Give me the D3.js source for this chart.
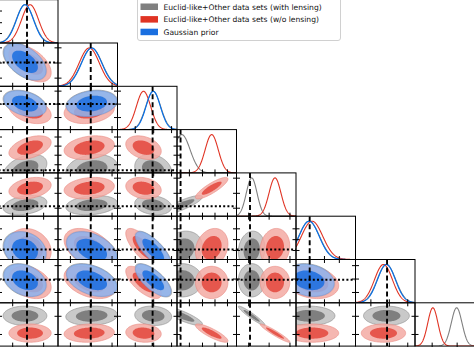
<!DOCTYPE html>
<html><head><meta charset="utf-8">
<script src="https://cdn.jsdelivr.net/npm/d3@7"></script>
<style>html,body{margin:0;padding:0;background:#fff;overflow:hidden}</style>
</head><body>
<svg id="c" width="474" height="347"></svg>
<script>
// ---------------- data (normalised parameter units, 0..1 per axis) ----------------
const paramNames = ["p1","p2","p3","p4","p5","p6","p7","p8"];
const trueValues = [0.479, 0.55, 0.59, 0.06, 0.227, 0.23, 0.53, 1.5];
const tickValues = [
  [0.23, 0.48, 0.75],
  [0.2, 0.55, 0.9],
  [0.29, 0.6, 0.9],
  [0.2, 0.42, 0.63, 0.84],
  [0.196, 0.54, 0.89],
  [0.22, 0.47, 0.72],
  [0.25, 0.56, 0.87],
  [0.28, 0.70]
];
const seriesNames = [
  "Euclid-like+Other data sets (with lensing)",
  "Euclid-like+Other data sets (w/o lensing)",
  "Gaussian prior"
];
// with lensing (gray)
const grayMean  = [0.445, 0.566, 0.60, 0.08, 0.255, 0.22, 0.52, 0.70];
const graySigma = [0.148, 0.175, 0.125, 0.14, 0.09, 0.175, 0.155, 0.09];
// without lensing (red)
const redMean   = [0.53, 0.525, 0.437, 0.583, 0.647, 0.27, 0.47, 0.30];
const redSigma  = [0.143, 0.17, 0.12, 0.11, 0.10, 0.18, 0.15, 0.085];
// Gaussian prior (blue) -- only for some parameters
const blueMean  = [0.445, 0.566, 0.60, null, null, 0.22, 0.52, null];
const blueSigma = [0.143, 0.17, 0.12, null, null, 0.17, 0.15, null];
// correlations, lower triangle: corr[row][col]
const corrRed = [
  [],
  [-0.5],
  [-0.35, 0.2],
  [0.45, 0.25, -0.3],
  [0.3, 0.2, -0.2, 0.85],
  [-0.2, -0.4, -0.75, 0.2, 0.1],
  [-0.3, -0.4, -0.7, 0.0, 0.0, -0.2],
  [0.0, 0.1, -0.1, -0.85, -0.95, 0.0, 0.0]
];
const corrGray = [
  [],
  [-0.5],
  [-0.35, 0.2],
  [0.4, 0.2, -0.2],
  [0.3, 0.2, -0.2, 0.85],
  [-0.2, -0.4, -0.75, 0.2, 0.1],
  [-0.3, -0.4, -0.7, 0.0, 0.0, -0.2],
  [0.0, 0.1, -0.1, -0.85, -0.95, 0.0, 0.0]
];
const corrBlue = corrGray;

// ---------------- layout ----------------
const N = 8, cellW = 59.5, cellH = 43.3, X0 = -1.5, Y0 = -0.3;
const svg = d3.select("#c");
const defs = svg.append("defs");

const xS = d3.range(N).map(j => d3.scaleLinear().domain([0,1]).range([X0 + j*cellW, X0 + (j+1)*cellW]));
const yS = d3.range(N).map(i => d3.scaleLinear().domain([0,1]).range([Y0 + (i+1)*cellH, Y0 + i*cellH]));
const yDens = d3.range(N).map(i => d3.scaleLinear().domain([0,1.13]).range([Y0 + (i+1)*cellH, Y0 + i*cellH]));

const series = [
  {mean: grayMean, sigma: graySigma, corr: corrGray, line: "#808080", inner: "#7f7f7f", outer: "#c9c9c9", edge:"#8c8c8c", op: 1},
  {mean: redMean, sigma: redSigma, corr: corrRed, line: "#e03424", inner: "#e3463c", outer: "#f3aaa3", edge:"#ea8a82", op: 0.85},
  {mean: blueMean, sigma: blueSigma, corr: corrBlue, line: "#006fed", inner: "#1a6fe0", outer: "#8db3ee", edge:"#6d97d9", op: 0.85}
];
const levels = [Math.sqrt(6.18), Math.sqrt(2.30)];

function ellipse(s, i, j) {
  const mx = s.mean[j], my = s.mean[i], sx = s.sigma[j], sy = s.sigma[i];
  const rho = s.corr[i][j];
  return levels.map(r => d3.range(0, 361, 4).map(a => {
    const t = a*Math.PI/180, c = Math.cos(t), sn = Math.sin(t);
    const vx = mx + r*sx*c;
    const vy = my + r*(rho*sy*c + sy*Math.sqrt(1-rho*rho)*sn);
    return [xS[j](vx), yS[i](vy)];
  }));
}

const panels = svg.append("g");
for (let i = 0; i < N; i++) {
  for (let j = 0; j <= i; j++) {
    const id = "cl" + i + "_" + j;
    defs.append("clipPath").attr("id", id).append("rect")
      .attr("x", xS[j].range()[0]).attr("y", yS[i].range()[1])
      .attr("width", cellW).attr("height", cellH);
    const g = panels.append("g").attr("clip-path", "url(#" + id + ")");
    if (i === j) {
      const xs = d3.range(0, 1.0001, 0.005);
      series.forEach(s => {
        if (s.mean[i] == null) return;
        const ln = d3.line().x(v => xS[j](v)).y(v => yDens[i](Math.exp(-0.5*Math.pow((v - s.mean[i])/s.sigma[i], 2))));
        g.append("path").attr("d", ln(xs)).attr("fill", "none").attr("stroke", s.line).attr("stroke-width", 1.1);
      });
    } else {
      series.forEach(s => {
        if (s.mean[i] == null || s.mean[j] == null) return;
        const [o, inn] = ellipse(s, i, j);
        const ln = d3.line().curve(d3.curveLinearClosed);
        g.append("path").attr("d", ln(o)).attr("fill", s.outer).attr("fill-opacity", s.op).attr("stroke", s.edge).attr("stroke-width", 0.6);
        g.append("path").attr("d", ln(inn)).attr("fill", s.inner).attr("fill-opacity", s.op).attr("stroke", "none");
      });
      g.append("line").attr("x1", xS[j].range()[0]).attr("x2", xS[j].range()[1])
        .attr("y1", yS[i](trueValues[i])).attr("y2", yS[i](trueValues[i]))
        .attr("stroke", "#000").attr("stroke-width", 2).attr("stroke-dasharray", "2,2.2");
    }
    g.append("line").attr("x1", xS[j](trueValues[j])).attr("x2", xS[j](trueValues[j]))
      .attr("y1", yS[i].range()[1]).attr("y2", yS[i].range()[0])
      .attr("stroke", "#000").attr("stroke-width", 1.9).attr("stroke-dasharray", "5,3");
  }
}

// frames and ticks
const axes = svg.append("g");
for (let i = 0; i < N; i++) {
  for (let j = 0; j <= i; j++) {
    const x0 = xS[j].range()[0], y0 = yS[i].range()[1];
    axes.append("rect").attr("x", x0).attr("y", y0).attr("width", cellW).attr("height", cellH)
      .attr("fill", "none").attr("stroke", "#000").attr("stroke-width", 1);
    const bottom = yS[i].range()[0];
    const xa = d3.axisBottom(xS[j]).tickValues(tickValues[j]).tickSizeInner(3.5).tickSizeOuter(0).tickFormat("");
    const gx = axes.append("g").attr("transform", `translate(0,${bottom})`).call(xa);
    gx.select(".domain").remove();
    gx.selectAll(".tick line").attr("y1", -3.5).attr("stroke-width", 1);
    const ya = d3.axisLeft(yS[i]).tickValues(tickValues[i]).tickSizeInner(3.5).tickSizeOuter(0).tickFormat("");
    const gy = axes.append("g").attr("transform", `translate(${x0},0)`).call(ya);
    gy.select(".domain").remove();
    gy.selectAll(".tick line").attr("x1", 3.5).attr("stroke-width", 1);
  }
}

// legend
const leg = svg.append("g");
leg.append("rect").attr("x", 137.5).attr("y", -6).attr("width", 203).attr("height", 46.5).attr("rx", 2.5)
  .attr("fill", "#fff").attr("fill-opacity", 0.8).attr("stroke", "#d0d0d0").attr("stroke-width", 1);
const legCols = ["#808080", "#e03424", "#1a6fe0"];
seriesNames.forEach((name, k) => {
  const y = 3.5 + k*12.6;
  leg.append("rect").attr("x", 140.5).attr("y", y).attr("width", 17.5).attr("height", 6.5).attr("fill", legCols[k]);
  leg.append("text").attr("x", 163.5).attr("y", y + 6.3).text(name)
    .attr("font-family", "DejaVu Sans").attr("font-size", 7.6).attr("fill", "#111");
});
</script>
</body></html>
